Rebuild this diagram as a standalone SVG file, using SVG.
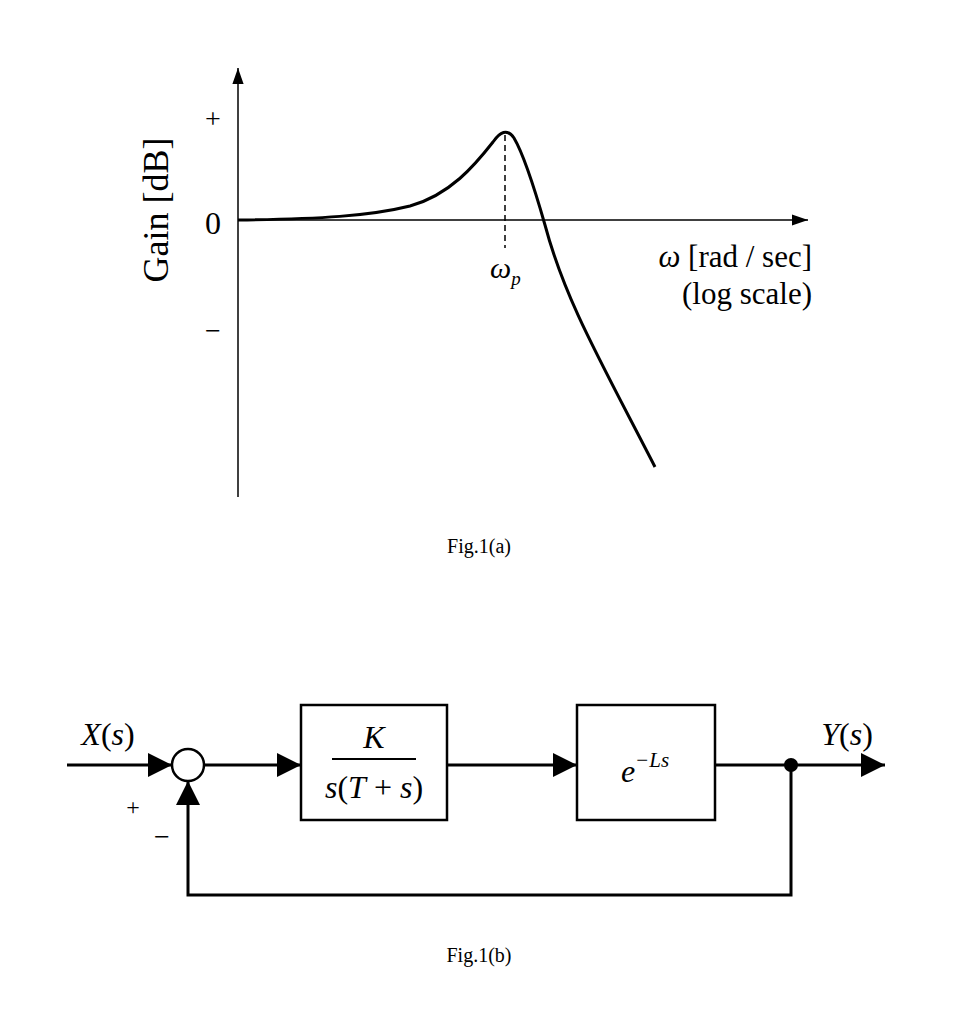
<svg xmlns="http://www.w3.org/2000/svg" width="958" height="1024" viewBox="0 0 958 1024">
<style>
.t{font-family:"Liberation Serif",serif;fill:#000}
.i{font-style:italic}
.l{stroke:#000;stroke-width:3;fill:none}
</style>
<defs>
<marker id="a" viewBox="0 0 10 10" refX="10" refY="5" markerWidth="24" markerHeight="24" markerUnits="userSpaceOnUse" orient="auto"><path d="M0,0L10,5L0,10z"/></marker>
<marker id="b" viewBox="0 0 10 10" refX="10" refY="5" markerWidth="16" markerHeight="16" markerUnits="userSpaceOnUse" orient="auto"><path d="M0,1.5L10,5L0,8.5z"/></marker>
</defs>
<rect width="958" height="1024" fill="#fff"/>
<g id="plot">
<line x1="238" y1="497" x2="238" y2="68" stroke="#000" stroke-width="1.5" marker-end="url(#b)"/>
<line x1="238" y1="220" x2="808" y2="220" stroke="#000" stroke-width="1.5" marker-end="url(#b)"/>
<line x1="505" y1="135" x2="505" y2="248" stroke="#000" stroke-width="1.5" stroke-dasharray="6,4"/>
<path class="l" d="M238,220 C320,219 370,216 410,206 C450,195 475,165 493,142 C500,132 507,128 514,138 C524,155 535,190 545,225 C565,300 600,360 655,467"/>
<text class="t" x="213" y="128" font-size="28" text-anchor="middle">+</text>
<text class="t" x="213" y="234" font-size="32" text-anchor="middle">0</text>
<text class="t" x="213" y="340" font-size="28" text-anchor="middle">−</text>
<text class="t" x="168" y="210" font-size="36" text-anchor="middle" transform="rotate(-90 168 210)">Gain [dB]</text>
<text class="t" x="812" y="267" font-size="31" text-anchor="end"><tspan class="i">ω</tspan> [rad / sec]</text>
<text class="t" x="812" y="304" font-size="31" text-anchor="end">(log scale)</text>
<text class="t i" x="490" y="278" font-size="30">ω<tspan font-size="19" dy="7">p</tspan></text>
<text class="t" x="479" y="553" font-size="20" text-anchor="middle">Fig.1(a)</text>
</g>
<g id="sum"><circle cx="188" cy="765" r="16" fill="#fff" stroke="#000" stroke-width="2.5"/></g>
<g id="block1"><rect x="301" y="705" width="146" height="115" fill="#fff" stroke="#000" stroke-width="2.5"/>
<line x1="332" y1="759" x2="416" y2="759" stroke="#000" stroke-width="2"/>
<text class="t i" x="374" y="748" font-size="32" text-anchor="middle">K</text>
<text class="t" x="374" y="798" font-size="32" text-anchor="middle"><tspan class="i">s</tspan>(<tspan class="i">T</tspan> + <tspan class="i">s</tspan>)</text></g>
<g id="block2"><rect x="577" y="705" width="138" height="115" fill="#fff" stroke="#000" stroke-width="2.5"/>
<text class="t i" x="645" y="782" font-size="32" text-anchor="middle">e<tspan font-size="21" dy="-15">−Ls</tspan></text></g>
<g id="dot"><circle cx="791" cy="765" r="7" fill="#000"/></g>
<g id="connectors">
<line class="l" x1="67" y1="765" x2="172" y2="765" marker-end="url(#a)"/>
<line class="l" x1="204" y1="765" x2="301" y2="765" marker-end="url(#a)"/>
<line class="l" x1="447" y1="765" x2="577" y2="765" marker-end="url(#a)"/>
<line class="l" x1="715" y1="765" x2="885" y2="765" marker-end="url(#a)"/>
<polyline class="l" points="791,765 791,895 188,895 188,781" marker-end="url(#a)"/>
</g>
<text class="t i" x="108" y="745" font-size="32" text-anchor="middle">X<tspan font-style="normal">(</tspan>s<tspan font-style="normal">)</tspan></text>
<text class="t i" x="847" y="745" font-size="32" text-anchor="middle">Y<tspan font-style="normal">(</tspan>s<tspan font-style="normal">)</tspan></text>
<text class="t" x="133" y="815" font-size="24" text-anchor="middle">+</text>
<text class="t" x="162" y="846" font-size="28" text-anchor="middle">−</text>
<text class="t" x="479" y="962" font-size="20" text-anchor="middle">Fig.1(b)</text>
</svg>
